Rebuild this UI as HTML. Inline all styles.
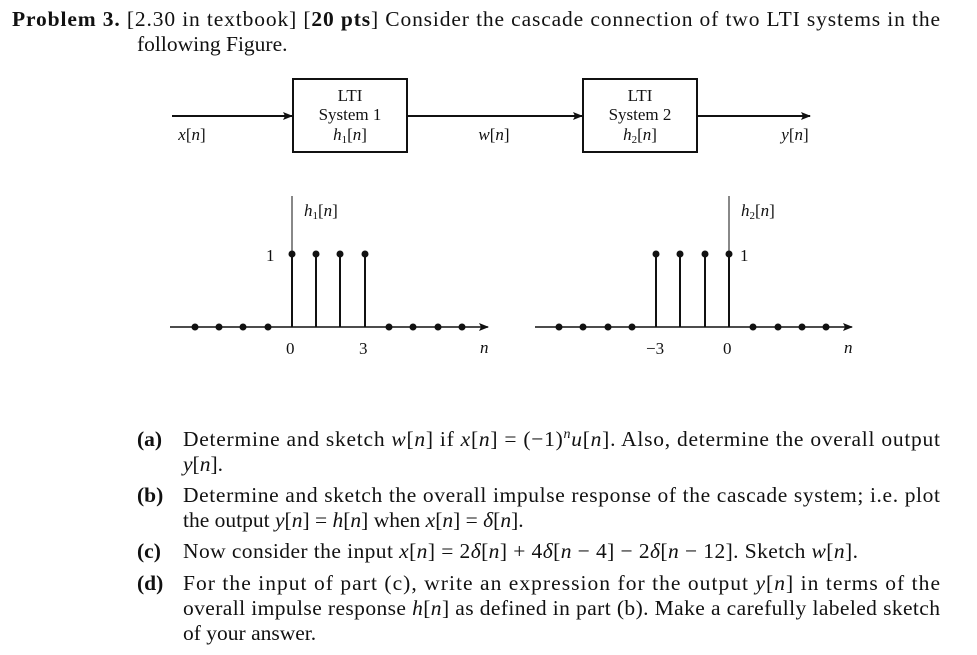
<!DOCTYPE html>
<html><head><meta charset="utf-8"><style>
html,body{margin:0;padding:0;background:#fff;}
svg{display:block;font-family:"Liberation Serif",serif;}
.t{font-size:21.5px;fill:#111;}
.s{font-size:17px;fill:#111;}
.i{font-style:italic;}
</style></head><body>
<svg width="977" height="655" viewBox="0 0 977 655" xmlns="http://www.w3.org/2000/svg">
<defs><marker id="a" markerWidth="10" markerHeight="8" refX="9" refY="4" orient="auto" markerUnits="userSpaceOnUse"><path d="M0,0 L10,4 L0,8 L2,4z" fill="#111"/></marker></defs>
<text class="t" x="12" y="26" textLength="928" lengthAdjust="spacing"><tspan font-weight="bold">Problem 3.</tspan> [2.30 in textbook] [<tspan font-weight="bold">20 pts</tspan>] Consider the cascade connection of two LTI systems in the</text>
<text class="t" x="137" y="51">following Figure.</text>
<g stroke="#111" fill="none">
<line x1="172" y1="116" x2="292" y2="116" stroke-width="2" marker-end="url(#a)"/>
<rect x="293" y="79" width="114" height="73" stroke-width="2"/>
<line x1="407" y1="116" x2="582" y2="116" stroke-width="2" marker-end="url(#a)"/>
<rect x="583" y="79" width="114" height="73" stroke-width="2"/>
<line x1="697" y1="116" x2="810" y2="116" stroke-width="2" marker-end="url(#a)"/>
</g>
<g class="s" text-anchor="middle">
<text x="350" y="101">LTI</text><text x="350" y="120">System 1</text><text x="350" y="140"><tspan class="i">h</tspan><tspan font-size="11" dy="3">1</tspan><tspan dy="-3">[</tspan><tspan class="i">n</tspan>]</text>
<text x="640" y="101">LTI</text><text x="640" y="120">System 2</text><text x="640" y="140"><tspan class="i">h</tspan><tspan font-size="11" dy="3">2</tspan><tspan dy="-3">[</tspan><tspan class="i">n</tspan>]</text>
<text x="192" y="140"><tspan class="i">x</tspan>[<tspan class="i">n</tspan>]</text>
<text x="494" y="140"><tspan class="i">w</tspan>[<tspan class="i">n</tspan>]</text>
<text x="795" y="140"><tspan class="i">y</tspan>[<tspan class="i">n</tspan>]</text>
</g>
<g stroke="#111" fill="#111">
<line x1="170" y1="327" x2="488" y2="327" stroke-width="1.5" marker-end="url(#a)"/>
<line x1="292" y1="196" x2="292" y2="327" stroke-width="1"/>
<g stroke-width="2">
<line x1="292" y1="254" x2="292" y2="327"/><line x1="316" y1="254" x2="316" y2="327"/><line x1="340" y1="254" x2="340" y2="327"/><line x1="365" y1="254" x2="365" y2="327"/>
</g>
<g stroke="none">
<circle cx="292" cy="254" r="3.5"/><circle cx="316" cy="254" r="3.5"/><circle cx="340" cy="254" r="3.5"/><circle cx="365" cy="254" r="3.5"/>
<circle cx="195" cy="327" r="3.5"/><circle cx="219" cy="327" r="3.5"/><circle cx="243" cy="327" r="3.5"/><circle cx="268" cy="327" r="3.5"/>
<circle cx="389" cy="327" r="3.5"/><circle cx="413" cy="327" r="3.5"/><circle cx="438" cy="327" r="3.5"/><circle cx="462" cy="327" r="3.5"/>
</g>
<line x1="535" y1="327" x2="852" y2="327" stroke-width="1.5" marker-end="url(#a)"/>
<line x1="729" y1="196" x2="729" y2="327" stroke-width="1"/>
<g stroke-width="2">
<line x1="656" y1="254" x2="656" y2="327"/><line x1="680" y1="254" x2="680" y2="327"/><line x1="705" y1="254" x2="705" y2="327"/><line x1="729" y1="254" x2="729" y2="327"/>
</g>
<g stroke="none">
<circle cx="656" cy="254" r="3.5"/><circle cx="680" cy="254" r="3.5"/><circle cx="705" cy="254" r="3.5"/><circle cx="729" cy="254" r="3.5"/>
<circle cx="559" cy="327" r="3.5"/><circle cx="583" cy="327" r="3.5"/><circle cx="608" cy="327" r="3.5"/><circle cx="632" cy="327" r="3.5"/>
<circle cx="753" cy="327" r="3.5"/><circle cx="778" cy="327" r="3.5"/><circle cx="802" cy="327" r="3.5"/><circle cx="826" cy="327" r="3.5"/>
</g>
</g>
<g class="s">
<text x="304" y="216"><tspan class="i">h</tspan><tspan font-size="11" dy="3">1</tspan><tspan dy="-3">[</tspan><tspan class="i">n</tspan>]</text>
<text x="266" y="261">1</text>
<text x="286" y="354">0</text><text x="359" y="354">3</text><text x="480" y="353" class="i">n</text>
<text x="741" y="216"><tspan class="i">h</tspan><tspan font-size="11" dy="3">2</tspan><tspan dy="-3">[</tspan><tspan class="i">n</tspan>]</text>
<text x="740" y="261">1</text>
<text x="646" y="354">−3</text><text x="723" y="354">0</text><text x="844" y="353" class="i">n</text>
</g>
<g class="t">
<text x="137" y="446" font-weight="bold">(a)</text>
<text x="183" y="446" textLength="757" lengthAdjust="spacing">Determine and sketch <tspan class="i">w</tspan>[<tspan class="i">n</tspan>] if <tspan class="i">x</tspan>[<tspan class="i">n</tspan>] = (−1)<tspan class="i" font-size="14" dy="-8">n</tspan><tspan class="i" dy="8">u</tspan>[<tspan class="i">n</tspan>]. Also, determine the overall output</text>
<text x="183" y="471"><tspan class="i">y</tspan>[<tspan class="i">n</tspan>].</text>
<text x="137" y="502" font-weight="bold">(b)</text>
<text x="183" y="502" textLength="757" lengthAdjust="spacing">Determine and sketch the overall impulse response of the cascade system; i.e. plot</text>
<text x="183" y="527">the output <tspan class="i">y</tspan>[<tspan class="i">n</tspan>] = <tspan class="i">h</tspan>[<tspan class="i">n</tspan>] when <tspan class="i">x</tspan>[<tspan class="i">n</tspan>] = <tspan class="i">δ</tspan>[<tspan class="i">n</tspan>].</text>
<text x="137" y="558" font-weight="bold">(c)</text>
<text x="183" y="558" textLength="675" lengthAdjust="spacing">Now consider the input <tspan class="i">x</tspan>[<tspan class="i">n</tspan>] = 2<tspan class="i">δ</tspan>[<tspan class="i">n</tspan>] + 4<tspan class="i">δ</tspan>[<tspan class="i">n</tspan> − 4] − 2<tspan class="i">δ</tspan>[<tspan class="i">n</tspan> − 12]. Sketch <tspan class="i">w</tspan>[<tspan class="i">n</tspan>].</text>
<text x="137" y="590" font-weight="bold">(d)</text>
<text x="183" y="590" textLength="757" lengthAdjust="spacing">For the input of part (c), write an expression for the output <tspan class="i">y</tspan>[<tspan class="i">n</tspan>] in terms of the</text>
<text x="183" y="615" textLength="757" lengthAdjust="spacing">overall impulse response <tspan class="i">h</tspan>[<tspan class="i">n</tspan>] as defined in part (b). Make a carefully labeled sketch</text>
<text x="183" y="640">of your answer.</text>
</g>
</svg>
</body></html>
